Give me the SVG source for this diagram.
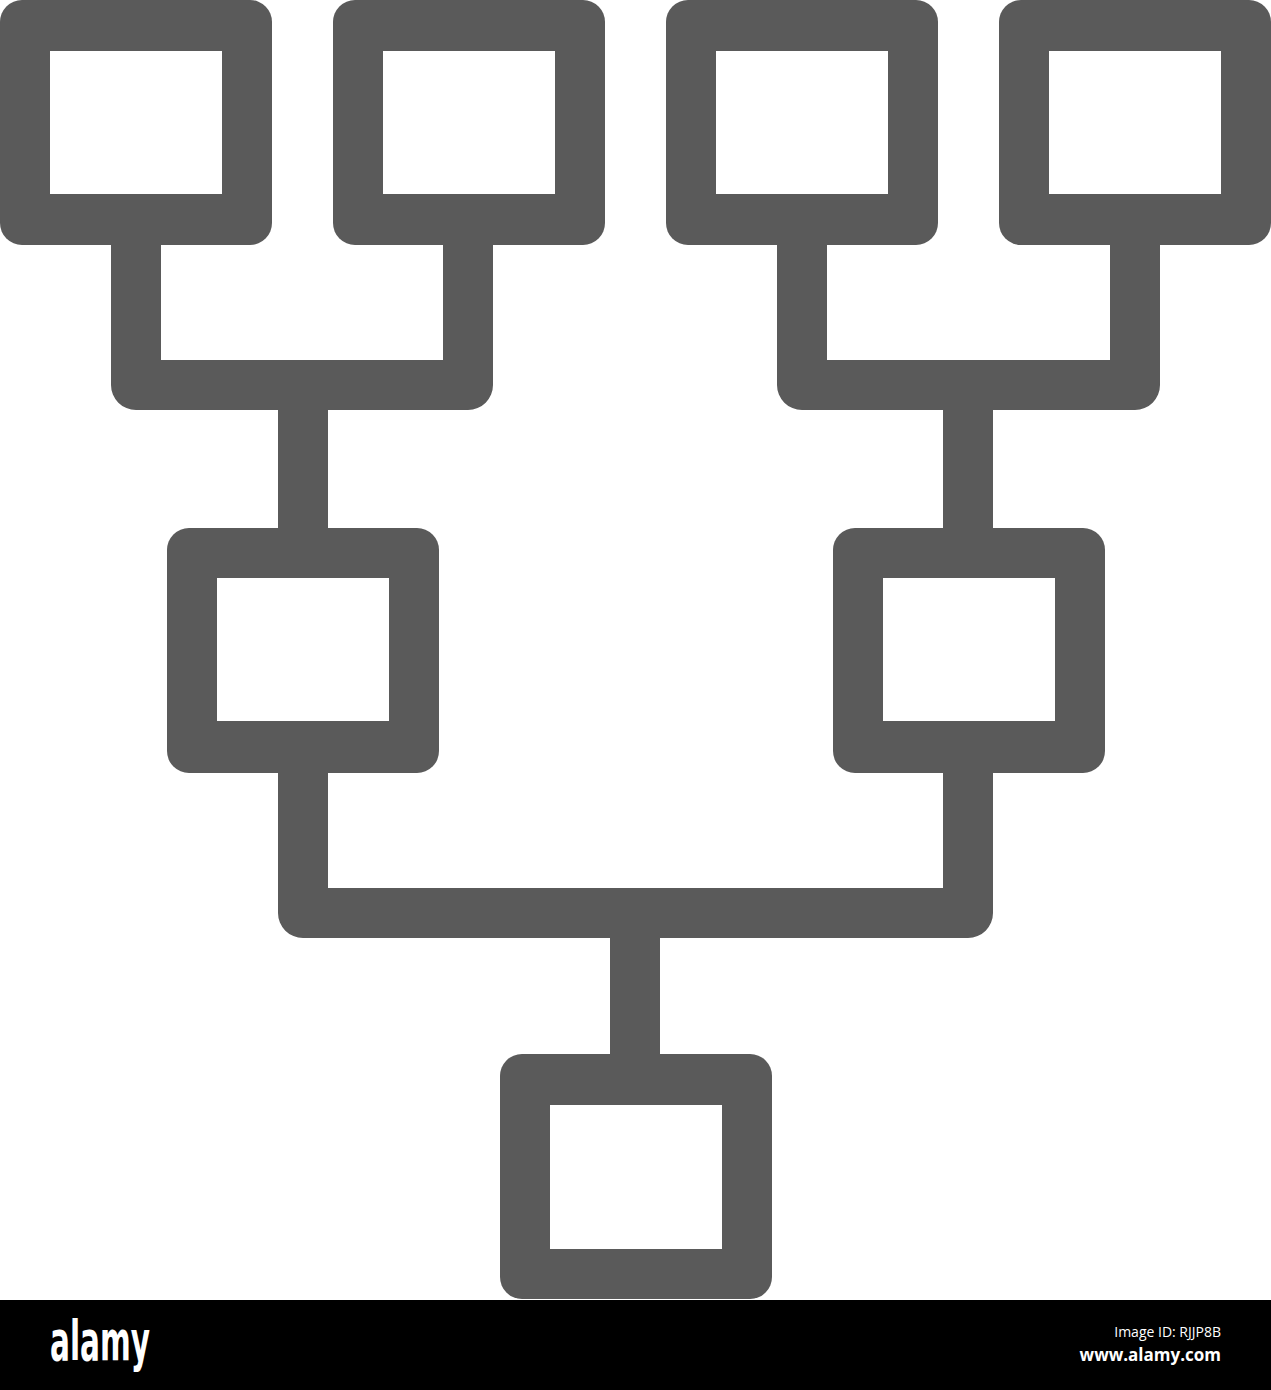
<svg xmlns="http://www.w3.org/2000/svg" width="1271" height="1390" viewBox="0 0 1271 1390">
<style>
.outer{fill:#5a5a5a}
.inner{fill:#ffffff}
.conn{fill:none;stroke:#5a5a5a;stroke-width:50;stroke-linejoin:round;stroke-linecap:butt}
</style>
<rect x="0" y="0" width="1271" height="1390" fill="#ffffff"/>
<g id="connectors">
<path class="conn" d="M136,240 V385 H468 V240"/>
<path class="conn" d="M303,385 V533"/>
<path class="conn" d="M802,240 V385 H1135 V240"/>
<path class="conn" d="M968,385 V533"/>
<path class="conn" d="M303,768 V913 H968 V768"/>
<path class="conn" d="M635,913 V1059"/>
</g>
<g id="node1"><rect class="outer" x="0" y="0" width="272" height="245" rx="22"/><rect class="inner" x="50" y="51" width="172" height="143"/></g>
<g id="node2"><rect class="outer" x="333" y="0" width="272" height="245" rx="22"/><rect class="inner" x="383" y="51" width="172" height="143"/></g>
<g id="node3"><rect class="outer" x="666" y="0" width="272" height="245" rx="22"/><rect class="inner" x="716" y="51" width="172" height="143"/></g>
<g id="node4"><rect class="outer" x="999" y="0" width="272" height="245" rx="22"/><rect class="inner" x="1049" y="51" width="172" height="143"/></g>
<g id="node5"><rect class="outer" x="167" y="528" width="272" height="245" rx="22"/><rect class="inner" x="217" y="578" width="172" height="143"/></g>
<g id="node6"><rect class="outer" x="833" y="528" width="272" height="245" rx="22"/><rect class="inner" x="883" y="578" width="172" height="143"/></g>
<g id="node7"><rect class="outer" x="500" y="1054" width="272" height="245" rx="22"/><rect class="inner" x="550" y="1105" width="172" height="144"/></g>
<g id="footer">
<rect x="0" y="1300" width="1271" height="90" fill="#000000"/>
<text x="50" y="1360" font-family="'Liberation Sans Narrow','DejaVu Sans Condensed','Liberation Sans',sans-serif" font-weight="bold" font-size="56" fill="#ffffff" textLength="100" lengthAdjust="spacingAndGlyphs">alamy</text>
<text x="1221" y="1337" text-anchor="end" font-family="'Open Sans','Noto Sans',sans-serif" font-size="14" fill="#ffffff">Image ID: RJJP8B</text>
<text x="1221" y="1361" text-anchor="end" font-family="'Open Sans','Noto Sans',sans-serif" font-weight="bold" font-size="17" fill="#ffffff">www.alamy.com</text>
</g>
</svg>
